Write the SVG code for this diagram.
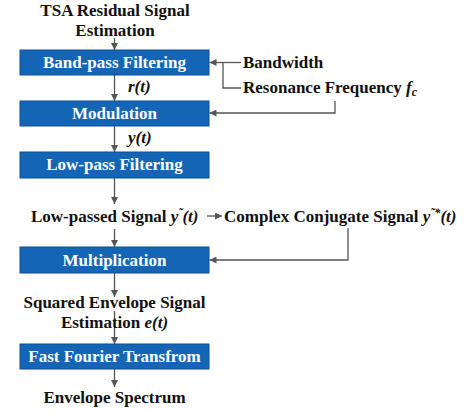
<svg xmlns="http://www.w3.org/2000/svg" width="474" height="412" viewBox="0 0 474 412">
<style>
text{font-family:"Liberation Serif","Times New Roman",serif;font-weight:bold;font-size:17px;fill:#111}
.c{text-anchor:middle}
.w{fill:#fff}
.i{font-style:italic}
.box{fill:#1465b5;stroke:#0c4f93;stroke-width:1}
.ln{fill:none;stroke:#555;stroke-width:1.3}
</style>
<defs>
<marker id="ah" viewBox="0 0 10 10" refX="10" refY="5" markerWidth="7" markerHeight="7" markerUnits="userSpaceOnUse" orient="auto">
<path d="M0,0 L10,5 L0,10 z" fill="#555"/>
</marker>
</defs>
<rect width="474" height="412" fill="#fff"/>
<g id="connectors">
<line class="ln" x1="114.5" y1="38" x2="114.5" y2="50" marker-end="url(#ah)"/>
<line class="ln" x1="114.5" y1="75" x2="114.5" y2="101" marker-end="url(#ah)"/>
<line class="ln" x1="114.5" y1="126" x2="114.5" y2="152" marker-end="url(#ah)"/>
<line class="ln" x1="114.5" y1="178" x2="114.5" y2="204" marker-end="url(#ah)"/>
<line class="ln" x1="114.5" y1="229" x2="114.5" y2="247" marker-end="url(#ah)"/>
<line class="ln" x1="114.5" y1="273" x2="114.5" y2="297" marker-end="url(#ah)"/>
<line class="ln" x1="114.5" y1="311" x2="114.5" y2="344" marker-end="url(#ah)"/>
<line class="ln" x1="114.5" y1="369" x2="114.5" y2="387" marker-end="url(#ah)"/>
<line class="ln" x1="241" y1="62.5" x2="209.5" y2="62.5" marker-end="url(#ah)"/>
<polyline class="ln" points="223,62.5 223,88 241,88"/>
<polyline class="ln" points="335,101 335,113 209.5,113" marker-end="url(#ah)"/>
<line class="ln" x1="207" y1="216" x2="222" y2="216" marker-end="url(#ah)"/>
<polyline class="ln" points="348,228 348,260 209.5,260" marker-end="url(#ah)"/>
</g>
<g id="tsa"><text class="c" x="115" y="16">TSA Residual Signal</text><text class="c" x="115" y="36">Estimation</text></g>
<g id="bandpass"><rect class="box" x="20" y="50" width="189" height="25"/><text class="c w" x="114.5" y="68">Band-pass Filtering</text></g>
<g id="rt"><text class="i" x="128" y="92">r(t)</text></g>
<g id="bandwidth"><text x="243" y="68">Bandwidth</text></g>
<g id="resonance"><text x="243" y="93">Resonance Frequency <tspan class="i">f</tspan><tspan class="i" font-size="12" dy="3">c</tspan></text></g>
<g id="modulation"><rect class="box" x="20" y="101" width="189" height="25"/><text class="c w" x="114.5" y="119">Modulation</text></g>
<g id="yt"><text class="i" x="128" y="143">y(t)</text></g>
<g id="lowpass"><rect class="box" x="20" y="152" width="189" height="26"/><text class="c w" x="114.5" y="170">Low-pass Filtering</text></g>
<g id="lowpassed"><text x="31" y="222">Low-passed Signal <tspan class="i">y</tspan><tspan class="i" font-size="12" dy="-5">˜</tspan><tspan class="i" dy="5">(t)</tspan></text></g>
<g id="conjugate"><text x="224" y="222">Complex Conjugate Signal <tspan class="i">y</tspan><tspan class="i" font-size="12" dy="-5">˜*</tspan><tspan class="i" dy="5">(t)</tspan></text></g>
<g id="multiplication"><rect class="box" x="20" y="247" width="189" height="26"/><text class="c w" x="114.5" y="266">Multiplication</text></g>
<g id="squared"><text class="c" x="114.5" y="308">Squared Envelope Signal</text><text class="c" x="114.5" y="328">Estimation <tspan class="i">e(t)</tspan></text></g>
<g id="fft"><rect class="box" x="20" y="344" width="189" height="25"/><text class="c w" x="114.5" y="362">Fast Fourier Transfrom</text></g>
<g id="spectrum"><text class="c" x="114.5" y="403">Envelope Spectrum</text></g>
</svg>
